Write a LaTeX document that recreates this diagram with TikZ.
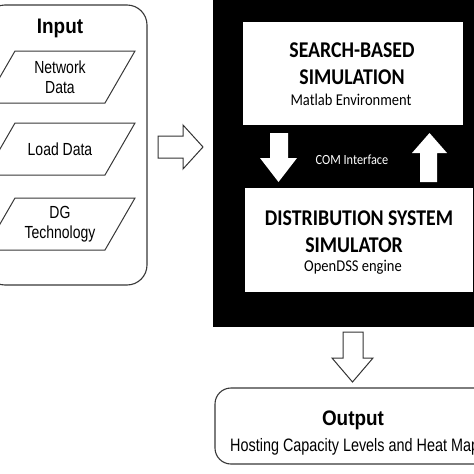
\documentclass[tikz,border=0pt]{standalone}
\usepackage{fontspec}
\setmainfont{Liberation Sans}[FakeStretch=0.9]
\newfontfamily\arialn{Liberation Sans}[FakeStretch=0.8]
\newfontfamily\calibri{Carlito}[FakeStretch=0.88]

\begin{document}
\begin{tikzpicture}[x=1pt,y=-1pt,line join=miter,
  frame/.style={draw=black!78,line width=1.1pt,rounded corners=20pt},
  datashape/.style={draw=black!78,line width=1pt},
  hollow/.style={draw=black!80,line width=1pt,fill=white},
  whitearrow/.style={fill=white},
  simbox/.style={fill=white,draw=none,inner sep=0pt},
  title/.style={font=\bfseries\fontsize{21}{22}\selectfont,inner sep=0pt},
  inlabel/.style={align=center,font=\arialn\fontsize{17.5}{20}\selectfont,inner sep=0pt},
  simtitle/.style={font=\calibri\bfseries\fontsize{22.5}{24}\selectfont,inner sep=0pt},
  simnote/.style={font=\calibri\fontsize{16.5}{18}\selectfont,inner sep=0pt}]
 \useasboundingbox (0,0) rectangle (474,474);
 \clip (0,0) rectangle (474,474);
 \fill[white] (0,0) rectangle (474,474);
 % input side
 \draw[frame] (-15,5) rectangle (147,285);
 \node[title] (input) at (60,28) {Input};
 \foreach \y/\name/\txt in {51/network/{Network\\Data},123/load/{Load Data},198/dg/{DG\\Technology}}{
  \draw[datashape] (15,\y)--(135,\y)--(105,\y+52)--(-15,\y+52)--cycle;
  \node[inlabel] (\name) at (60,\y+26.5) {\txt};
 }
 \draw[hollow] (158,136)--(183,136)--(183,125)--(203,147)--(183,169)--(183,158)--(158,158)--cycle;
 % simulation block
 \fill[black] (213,-10) rectangle (490,327);
 \node[simbox,minimum width=220,minimum height=103] (search) at (353,73.5) {};
 \node[simtitle] (searchA) at (352,50) {SEARCH-BASED};
 \node[simtitle] (searchB) at (352,77) {SIMULATION};
 \node[simnote] (matlab) at (351,100) {Matlab Environment};
 \node[simbox,minimum width=228,minimum height=104] (dss) at (359,240) {};
 \node[simtitle] (dssA) at (359,218) {DISTRIBUTION SYSTEM};
 \node[simtitle] (dssB) at (354,245) {SIMULATOR};
 \node[simnote] (opendss) at (353,267) {OpenDSS engine};
 \fill[whitearrow] (270,133)--(288,133)--(288,158)--(297,158)--(278.5,182)--(260,158)--(270,158)--cycle;
 \fill[whitearrow] (420,182)--(437,182)--(437,153)--(447,153)--(429.5,133)--(412,153)--(420,153)--cycle;
 \node[font=\calibri\fontsize{14}{16}\selectfont,text=white,inner sep=0pt] (com) at (352,160) {COM Interface};
 % output side
 \draw[hollow] (343,332)--(363,332)--(363,358)--(373,358)--(352.5,382)--(332,358)--(343,358)--cycle;
 \draw[frame,rounded corners=16pt] (215,388) rectangle (530,464);
 \node[title] (output) at (353,420) {Output};
 \node[anchor=west,font=\arialn\fontsize{18}{20}\selectfont,inner sep=0pt] (hosting) at (230,447)
   {Hosting Capacity Levels and Heat Maps};
\end{tikzpicture}
\end{document}
